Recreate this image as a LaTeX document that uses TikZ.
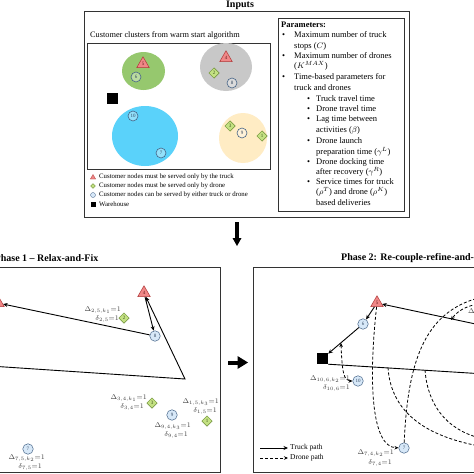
\documentclass[tikz,border=0pt]{standalone}
\usepackage{fontspec}
\setmainfont{Liberation Serif}
\usetikzlibrary{arrows.meta,shapes.geometric}
\definecolor{trkfill}{RGB}{240,135,135}
\definecolor{trkdraw}{RGB}{175,55,55}
\definecolor{cusfill}{RGB}{215,232,248}
\definecolor{cusdraw}{RGB}{70,100,135}
\definecolor{drnfill}{RGB}{195,225,130}
\definecolor{drndraw}{RGB}{105,140,50}
\definecolor{cgreen}{RGB}{150,200,110}
\definecolor{cgray}{RGB}{200,200,200}
\definecolor{ccyan}{RGB}{90,210,250}
\definecolor{cyellow}{RGB}{255,236,196}
\definecolor{lbltext}{RGB}{60,60,60}
\newcommand\myfs[1]{\fontsize{#1}{#1}\selectfont}
\begin{document}
\begin{tikzpicture}[x=1pt,y=-1pt,
  trk/.style={regular polygon,regular polygon sides=3,draw=trkdraw,fill=trkfill,minimum size=14.5pt,inner sep=0pt,font=\myfs{5},text=trkdraw!60!black,line width=0.5pt},
  cus/.style={circle,draw=cusdraw,fill=cusfill,minimum size=10.5pt,inner sep=0pt,font=\myfs{5},text=cusdraw!70!black,line width=0.5pt},
  cusk/.style={circle,draw=cusdraw,fill=white,fill opacity=0.35,text opacity=1,minimum size=10pt,inner sep=0pt,font=\myfs{5},text=cusdraw!70!black,line width=0.6pt},
  drn/.style={diamond,draw=drndraw,fill=drnfill,minimum width=10.5pt,minimum height=10.5pt,inner sep=0pt,font=\myfs{5},text=drndraw!60!black,line width=0.5pt},
  wh/.style={rectangle,fill=black,minimum size=11pt,inner sep=0pt},
  lgtrk/.style={regular polygon,regular polygon sides=3,draw=trkdraw,fill=trkfill,minimum size=6pt,inner sep=0pt,line width=0.3pt},
  lgdrn/.style={diamond,draw=drndraw,fill=drnfill,minimum width=5pt,minimum height=5pt,inner sep=0pt,line width=0.3pt},
  lgcus/.style={circle,draw=cusdraw,fill=cusfill,minimum size=5pt,inner sep=0pt,line width=0.3pt},
  lgwh/.style={rectangle,fill=black,minimum size=5pt,inner sep=0pt},
  lgtxt/.style={anchor=west,font=\myfs{6.8},inner sep=0pt},
  ptxt/.style={anchor=west,font=\myfs{8.5},inner sep=0pt,text height=6pt,text depth=2pt},
  lbl/.style={anchor=east,font=\myfs{7},text=lbltext,inner sep=0pt},
  frame/.style={draw=black!80,line width=0.8pt},
  truck/.style={draw=black,line width=0.9pt,-{Stealth[length=4.5pt,width=4pt]}},
  plainline/.style={draw=black,line width=0.9pt},
  drone/.style={draw=black,line width=0.8pt,dash pattern=on 3pt off 2pt},
  dtip/.style={-{Stealth[length=4pt,width=3.5pt]}},
  ttl/.style={font=\bfseries\myfs{10},inner sep=0pt}
]
\useasboundingbox (0,0) rectangle (474,474);
\clip (0,0) rectangle (474,474);
\fill[white] (0,0) rectangle (474,474);

% ---------------- Inputs ----------------
\node[ttl] (tin) at (240,5.5) {Inputs};
\draw[frame,line width=1pt] (84,11) rectangle (409,217);
\node[anchor=west,font=\myfs{8.3},inner sep=0pt] (ctitle) at (90,35) {Customer clusters from warm start algorithm};
\draw[frame,line width=0.6pt] (87,43) rectangle (270,169);
\fill[cgreen] (143.5,71) ellipse [x radius=21.5pt,y radius=19pt];
\fill[cgray] (226,67) ellipse [x radius=26pt,y radius=24pt];
\fill[ccyan] (145,136) ellipse [x radius=33pt,y radius=30pt];
\fill[cyellow] (243,138) ellipse [x radius=24pt,y radius=25pt];
\node[trk] (k5) at (143,64) {5};
\node[cusk] (k6) at (136,77) {6};
\node[trk] (k4) at (226,58) {4};
\node[drn] (k2) at (214,73) {2};
\node[cusk] (k8) at (232,83) {8};
\node[wh] (kw) at (112.5,98) {};
\node[cusk] (k10) at (133,116) {10};
\node[cusk] (k7) at (161,153) {7};
\node[drn] (k3) at (230,126) {3};
\node[cusk] (k9) at (242,133) {9};
\node[drn] (k1) at (262,136) {1};

\node[lgtrk] (lm1) at (93,177.5) {};
\node[lgtxt] (lt1) at (99,177) {Customer nodes must be served only by the truck};
\node[lgdrn] (lm2) at (93,186) {};
\node[lgtxt] (lt2) at (99,186) {Customer nodes must be served only by drone};
\node[lgcus] (lm3) at (93,195) {};
\node[lgtxt] (lt3) at (99,195) {Customer nodes can be served by either truck or drone};
\node[lgwh] (lm4) at (93,204) {};
\node[lgtxt] (lt4) at (99,204) {Warehouse};

\draw[frame,line width=0.6pt] (278,18) rectangle (404,211);
\node[ptxt,font=\bfseries\myfs{8.5}] (ph) at (281,25) {Parameters:};
\node[ptxt] (b1) at (282,35) {\textbullet};
\node[ptxt] (p1) at (294,35) {Maximum number of truck};
\node[ptxt] (p1b) at (294,46) {stops ($C$)};
\node[ptxt] (b2) at (282,56) {\textbullet};
\node[ptxt] (p2) at (294,56) {Maximum number of drones};
\node[ptxt] (p2b) at (294,66) {($K^{MAX}$)};
\node[ptxt] (b3) at (282,77) {\textbullet};
\node[ptxt] (p3) at (294,77) {Time-based parameters for};
\node[ptxt] (p3b) at (294,88) {truck and drones};
\node[ptxt] (sb1) at (307,99) {\textbullet};
\node[ptxt] (s1) at (316,99) {Truck travel time};
\node[ptxt] (sb2) at (307,109) {\textbullet};
\node[ptxt] (s2) at (316,109) {Drone travel time};
\node[ptxt] (sb3) at (307,119) {\textbullet};
\node[ptxt] (s3) at (316,119) {Lag time between};
\node[ptxt] (s3b) at (316,130) {activities ($\beta$)};
\node[ptxt] (sb4) at (307,141) {\textbullet};
\node[ptxt] (s4) at (316,141) {Drone launch};
\node[ptxt] (s4b) at (316,152) {preparation time ($\gamma^{L}$)};
\node[ptxt] (sb5) at (307,162) {\textbullet};
\node[ptxt] (s5) at (316,162) {Drone docking time};
\node[ptxt] (s5b) at (316,172) {after recovery ($\gamma^{R}$)};
\node[ptxt] (sb6) at (307,182) {\textbullet};
\node[ptxt] (s6) at (316,182) {Service times for truck};
\node[ptxt] (s6b) at (316,192) {($\rho^{T}$) and drone ($\rho^{K}$)};
\node[ptxt] (s6c) at (316,203) {based deliveries};

% big arrows
\fill[black] (235,222) rectangle (239,238);
\fill[black] (232.5,238) -- (241.5,238) -- (237,246) -- cycle;
\fill[black] (228,360.5) rectangle (238,364.5);
\fill[black] (237.5,356) -- (237.5,369) -- (248,362.5) -- cycle;

% ---------------- Phase 1 ----------------
\node[ttl,anchor=east] (t1) at (98.5,258) {Phase 1 -- Relax-and-Fix};
\draw[frame] (-5,267) rectangle (220,472.5);
\node[trk] (A5) at (-2,303) {5};
\node[trk] (A4) at (144,293) {4};
\node[cus] (A8) at (155,336) {8};
\node[drn] (A2) at (124,318) {2};
\node[drn] (A3) at (152,403) {3};
\node[cus] (A9) at (172,415) {9};
\node[drn] (A1) at (207,421) {1};
\node[cus] (A7) at (28,449) {7};
\coordinate (a0) at (-10,366);
\coordinate (a1) at (185,379);
\draw[truck] (A8) -- (A5);
\draw[truck] (A4) -- (A8);
\draw[truck] (a0) -- (a1) -- (A4);
\node[lbl] (l2a) at (121,310) {$\Delta_{2,5,k_1}{=}1$};
\node[lbl] (l2b) at (119,319) {$\delta_{2,5}{=}1$};
\node[lbl] (l3a) at (147,398) {$\Delta_{3,4,k_1}{=}1$};
\node[lbl] (l3b) at (144,407) {$\delta_{3,4}{=}1$};
\node[lbl] (l1a) at (219,402) {$\Delta_{1,5,k_3}{=}1$};
\node[lbl] (l1b) at (217,411) {$\delta_{1,5}{=}1$};
\node[lbl] (l9a) at (191,426) {$\Delta_{9,4,k_3}{=}1$};
\node[lbl] (l9b) at (188,435) {$\delta_{9,4}{=}1$};
\node[lbl] (l7a) at (45,458) {$\Delta_{7,5,k_2}{=}1$};
\node[lbl] (l7b) at (42,467) {$\delta_{7,5}{=}1$};

% ---------------- Phase 2 ----------------
\node[ttl,anchor=west] (t2) at (341,258) {Phase 2: Re-couple-refine-and-optimize};
\draw[frame] (253,267) rectangle (480,472.5);
\node[trk] (B5) at (377,303) {5};
\node[cus] (B6) at (363,324) {6};
\node[wh] (BW) at (322.5,358.5) {};
\node[cus] (B10) at (358,381) {10};
\node[cus] (B7) at (404,448) {7};
\coordinate (b0) at (485,326);
\coordinate (b1) at (485,374);
\coordinate (m1) at (341,343);
\coordinate (b2) at (492,295);
\coordinate (b3) at (492,303);
\coordinate (b4) at (451,320);
\coordinate (b5) at (388,367.5);
\coordinate (b6) at (485,447);
\coordinate (b7) at (425,370);
\coordinate (b8) at (485,439);
\draw[truck] (b0) -- (B5);
\draw[truck] (B5) -- (B6);
\draw[truck] (B6) -- (BW);
\draw[plainline] (BW.south east) -- (b1);
\draw[drone,{Stealth[length=4pt,width=3.5pt]}-{Stealth[length=4pt,width=3.5pt]}] (m1) .. controls (342,372) and (344,381) .. (B10);
\draw[drone,dtip] (B5) .. controls (368,385) and (372,447) .. (B7);
\draw[drone] (B7) .. controls (408,350) and (430,305) .. (b2);
\draw[drone,dtip] (b3) .. controls (470,303) and (458,310) .. (b4);
\draw[drone] (b5) .. controls (391,415) and (430,438) .. (b6);
\draw[drone] (b7) .. controls (428,410) and (452,433) .. (b8);
\node[lbl,anchor=west] (lx) at (468,312) {$\Delta_{4,5,k_1}{=}1$};
\node[lbl] (l10a) at (350,379) {$\Delta_{10,6,k_2}{=}1$};
\node[lbl] (l10b) at (350,388) {$\delta_{10,6}{=}1$};
\node[lbl] (l74a) at (394,453) {$\Delta_{7,4,k_2}{=}1$};
\node[lbl] (l74b) at (392,463) {$\delta_{7,4}{=}1$};
\coordinate (g1) at (260,448);
\coordinate (g2) at (288,448);
\coordinate (g3) at (260,458);
\coordinate (g4) at (288,458);
\draw[truck] (g1) -- (g2);
\draw[drone,dtip] (g3) -- (g4);
\node[anchor=west,font=\myfs{7.5},inner sep=0pt] (tp) at (290,448) {Truck path};
\node[anchor=west,font=\myfs{7.5},inner sep=0pt] (dp) at (290,458) {Drone path};
\end{tikzpicture}
\end{document}
